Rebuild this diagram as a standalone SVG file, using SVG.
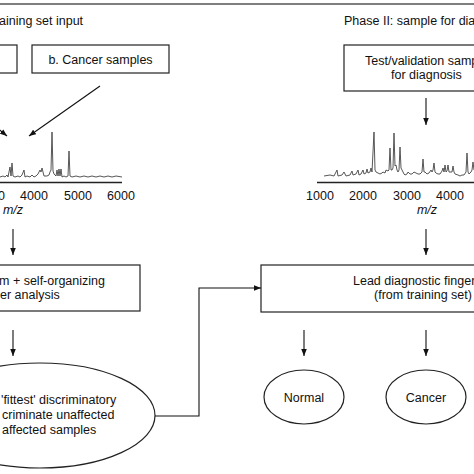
<svg xmlns="http://www.w3.org/2000/svg" width="474" height="474" viewBox="0 0 474 474">
<defs>
<marker id="ah" markerUnits="userSpaceOnUse" markerWidth="8" markerHeight="6" refX="7" refY="3" orient="auto">
<path d="M0,0.2 L7,3 L0,5.8 z" fill="#111"/>
</marker>
<style>
text{font-family:"Liberation Sans",Arial,sans-serif;font-size:12.5px;fill:#111}
.box{fill:#fff;stroke:#222;stroke-width:1.2}
.ln{fill:none;stroke:#111;stroke-width:1.1}
.arr{fill:none;stroke:#111;stroke-width:1.1;marker-end:url(#ah)}
.spec{fill:none;stroke:#444;stroke-width:0.9}
.axis{fill:none;stroke:#222;stroke-width:1.3}
.mz{font-style:italic}
</style>
</defs>
<rect width="474" height="474" fill="#fff"/>
<line x1="0" y1="4" x2="474" y2="4" stroke="#555" stroke-width="1.4"/>

<g id="phase1-title"><text x="-1" y="25">aining set input</text></g>
<g id="phase2-title"><text x="344" y="25">Phase II: sample for dia</text></g>

<g id="box-a"><rect class="box" x="-60" y="45" width="77" height="28"/></g>
<g id="box-cancer"><rect class="box" x="32" y="45" width="137" height="28"/><text x="100.5" y="64" text-anchor="middle">b. Cancer samples</text></g>
<g id="box-test"><rect class="box" x="344" y="45" width="160" height="46"/><text x="365" y="65">Test/validation samp</text><text x="391" y="79">for diagnosis</text></g>

<g id="spectrum-left">
<polyline class="spec" points="0,177 3,176 5,177 7,175 8,177 10,167 11,176 12,163 13,176 15,177 18,176 20,177 22,175 24,170 25,177 27,176 30,177 32,175 34,177 36,176 38,174 40,170 41,172 42,168 43,172 44,176 47,176 49,175 50,172 51,170 52,132 53,171 54,174 56,176 57,170 58,176 59,169 60,176 61,169 62,177 64,176 66,177 68,176 69,151 70,176 72,177 76,176 80,177 84,176 88,177 92,176 96,177 100,176 104,177 108,176 112,177 116,176 122,177"/>
<line class="axis" x1="0" y1="182.5" x2="122" y2="182.5"/>
<text x="-2" y="200">0</text>
<text x="34" y="200" text-anchor="middle">4000</text>
<text x="78" y="200" text-anchor="middle">5000</text>
<text x="121" y="200" text-anchor="middle">6000</text>
<text class="mz" x="13" y="214" text-anchor="middle">m/z</text>
</g>

<g id="spectrum-right">
<polyline class="spec" points="324,176 330,175 334,176 337,170 338,176 342,175 344,172 346,176 350,175 352,171 353,175 356,174 358,170 359,175 361,174 363,170 364,174 366,173 367,169 368,173 370,172 371,168 372,172 374,132 375,170 376,172 378,173 380,174 382,173 383,172 385,173 386,170 388,171 389,170 390,148 391,170 392,170 393,168 394,133 395,166 396,165 397,170 398,172 399,170 400,147 401,168 402,170 404,174 405,175 407,174 408,172 410,174 412,174 414,172 416,173 418,174 420,174 422,172 423,159 424,172 425,172 427,174 429,173 431,170 432,172 433,170 434,163 435,172 436,173 438,174 440,174 442,171 443,168 444,172 445,165 446,172 447,171 448,165 449,172 450,172 452,172 453,166 454,172 455,174 458,175 460,176 462,175 464,175 466,172 467,153 468,172 469,174 471,172 472,170 473,162 474,170"/>
<line class="axis" x1="317" y1="182.5" x2="474" y2="182.5"/>
<text x="320" y="200" text-anchor="middle">1000</text>
<text x="363" y="200" text-anchor="middle">2000</text>
<text x="407" y="200" text-anchor="middle">3000</text>
<text x="450" y="200" text-anchor="middle">4000</text>
<text class="mz" x="427" y="214" text-anchor="middle">m/z</text>
</g>

<g id="box-ga"><rect class="box" x="-60" y="265" width="200" height="46"/><text x="-1" y="285">m + self-organizing</text><text x="0" y="299">er analysis</text></g>
<g id="box-lead"><rect class="box" x="261" y="265" width="250" height="47"/><text x="353" y="285">Lead diagnostic finger</text><text x="374" y="299">(from training set)</text></g>

<g id="ellipse-fittest"><ellipse class="box" cx="40" cy="415.5" rx="115" ry="52.5"/><text x="1" y="404">'fittest' discriminatory</text><text x="2" y="419">criminate unaffected</text><text x="2" y="434">affected samples</text></g>
<g id="ellipse-normal"><ellipse class="box" cx="304" cy="397" rx="40" ry="27"/><text x="304" y="402" text-anchor="middle">Normal</text></g>
<g id="ellipse-cancer"><ellipse class="box" cx="426" cy="397" rx="40" ry="27"/><text x="426" y="402" text-anchor="middle">Cancer</text></g>

<g id="connectors">
<line class="arr" x1="100" y1="86" x2="29" y2="136"/>
<line class="arr" x1="-30" y1="106" x2="7" y2="136"/>
<line class="arr" x1="426" y1="98" x2="426" y2="125"/>
<line class="arr" x1="13" y1="229" x2="13" y2="255"/>
<line class="arr" x1="13" y1="330" x2="13" y2="356"/>
<line class="arr" x1="426" y1="229" x2="426" y2="255"/>
<line class="arr" x1="304" y1="330" x2="304" y2="356"/>
<line class="arr" x1="426" y1="330" x2="426" y2="356"/>
<polyline class="arr" points="155,416 199,416 199,288 261,288"/>
</g>
</svg>
